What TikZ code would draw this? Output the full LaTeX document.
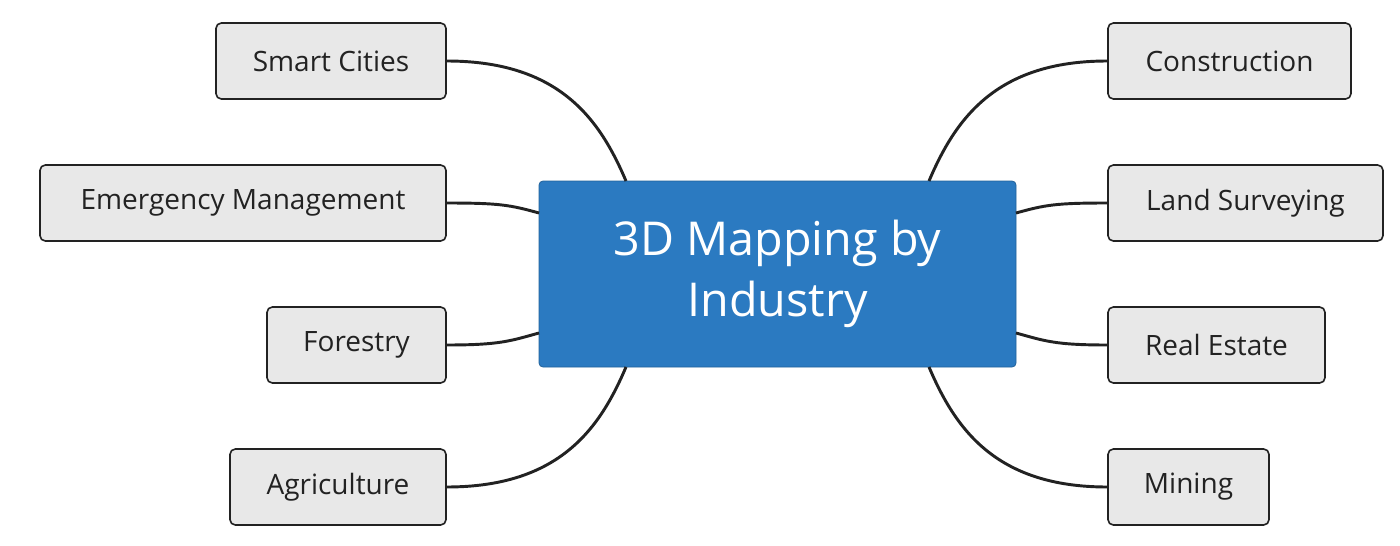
\documentclass[tikz,border=0pt]{standalone}
\usepackage{fontspec}
\setmainfont{Open Sans}
\definecolor{cblue}{HTML}{2B7AC1}
\definecolor{cgray}{HTML}{E8E8E8}
\definecolor{cline}{HTML}{222222}
\begin{document}
\begin{tikzpicture}[x=0.75pt,y=-0.75pt,
  leaf/.style={draw=cline,fill=cgray,line width=1.2pt,rounded corners=4pt,minimum height=57pt,inner sep=0pt,font=\fontsize{21}{25}\selectfont,text=cline},
  link/.style={draw=cline,line width=2.2pt}]
\useasboundingbox (0,0) rectangle (1400,546);
\node[fill=cblue,draw=cblue!80!black,line width=0.6pt,rounded corners=3pt,minimum width=357.75pt,minimum height=139.5pt,text=white,align=center,font=\fontsize{35}{46}\selectfont] (c) at (777.5,274) {3D Mapping by\\Industry};
\node[leaf,minimum width=172.5pt] (l1) at (331,61) {Smart Cities};
\node[leaf,minimum width=304.5pt] (l2) at (243,203) {Emergency Management};
\node[leaf,minimum width=134.25pt] (l3) at (356.5,345) {Forestry};
\node[leaf,minimum width=162pt] (l4) at (338,487) {Agriculture};
\node[leaf,minimum width=182.25pt] (r1) at (1229.5,61) {Construction};
\node[leaf,minimum width=206.25pt] (r2) at (1245.5,203) {Land Surveying};
\node[leaf,minimum width=162.75pt] (r3) at (1216.5,345) {Real Estate};
\node[leaf,minimum width=120.75pt] (r4) at (1188.5,487) {Mining};
\coordinate (a1) at (626,181); \coordinate (a2) at (539,213);
\coordinate (a3) at (539,333); \coordinate (a4) at (626,367);
\coordinate (b1) at (929,181); \coordinate (b2) at (1016,213);
\coordinate (b3) at (1016,333); \coordinate (b4) at (929,367);
\begin{scope}[on background layer/.try]
\draw[link] (l1.east) .. controls (560,61) and (600,120) .. (a1);
\draw[link] (l2.east) .. controls (500,203) and (510,205) .. (a2);
\draw[link] (l3.east) .. controls (500,345) and (510,341) .. (a3);
\draw[link] (l4.east) .. controls (560,487) and (600,428) .. (a4);
\draw[link] (r1.west) .. controls (995,61) and (955,120) .. (b1);
\draw[link] (r2.west) .. controls (1055,203) and (1045,205) .. (b2);
\draw[link] (r3.west) .. controls (1055,345) and (1045,341) .. (b3);
\draw[link] (r4.west) .. controls (995,487) and (955,428) .. (b4);
\end{scope}
\end{tikzpicture}
\end{document}
